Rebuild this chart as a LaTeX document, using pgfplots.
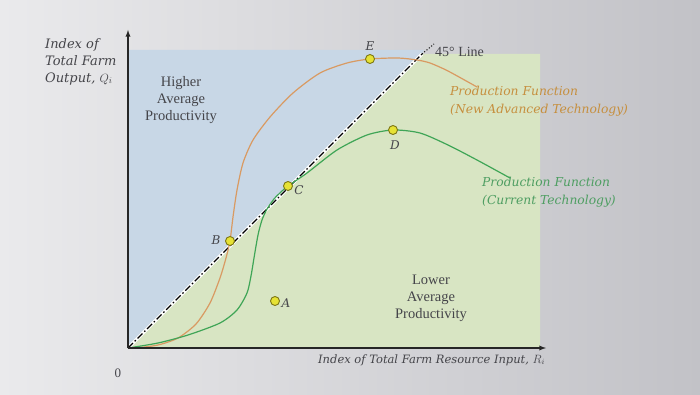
\documentclass[border=0pt]{standalone}
\usepackage{pgfplots}
\pgfplotsset{compat=1.18}
\usepackage{fontspec}
\setmainfont{Liberation Serif}
\newfontfamily\itf{DejaVu Serif}
\definecolor{bgL}{HTML}{EAEAEC}
\definecolor{bgR}{HTML}{C2C2C7}
\definecolor{blueReg}{HTML}{C8D7E6}
\definecolor{greenReg}{HTML}{D8E5C3}
\definecolor{orangeC}{HTML}{D99A62}
\definecolor{greenC}{HTML}{3FA556}
\definecolor{orangeT}{HTML}{C68F3E}
\definecolor{greenT}{HTML}{4E9E62}
\definecolor{mkF}{HTML}{E6E235}
\definecolor{mkD}{HTML}{7D7715}
\definecolor{txt}{HTML}{45454A}
\begin{document}
\begin{tikzpicture}[x=1pt,y=1pt]
\begin{axis}[
  scale only axis, width=420pt, height=300pt,
  xmin=0, xmax=420, ymin=0, ymax=300,
  hide axis, clip=false,
]
\shade[left color=bgL, right color=bgR] (axis cs:-128,-46) rectangle (axis cs:572,348);
\fill[greenReg] (axis cs:0,0) -- (axis cs:294,294) -- (axis cs:412,294) -- (axis cs:412,0) -- cycle;
\fill[blueReg] (axis cs:0,0) -- (axis cs:0,298) -- (axis cs:296,298) -- (axis cs:294,294) -- cycle;
% 45 degree line
\addplot[white, line width=3.5pt, forget plot] coordinates {(0,0) (294,294)};
\addplot[black, line width=1.4pt, dash pattern=on 7pt off 2.5pt on 1.5pt off 2.5pt, forget plot] coordinates {(0,0) (294,294)};
\addplot[black, line width=1pt, dotted, forget plot] coordinates {(294,294) (306,304)};
% new technology
\addplot[orangeC, line width=1.2pt, smooth, tension=0.45] coordinates {
(8,0) (30,3) (50,10) (68,24) (82,45) (92,70) (98,90) (102,107) (105,131) (109,158) (115,185) (125,208) (142,231) (165,255) (192,275) (219,285) (242,289) (270,290) (289,288) (302,285) (320,277) (349,261)};
% current technology
\addplot[greenC, line width=1.2pt, smooth, tension=0.45] coordinates {
(0,0) (30,5) (60,13) (92,25) (109,38) (119,55) (123,72) (126,90) (130,113) (134,128) (139,139) (146,149) (153,156) (160,162) (179,175) (209,198) (239,213) (265,218) (292,215) (320,203) (349,188) (382,170)};
% points
\addplot[only marks, mark=*, mark size=4.5pt, mark options={fill=mkF, draw=mkD, line width=0.9pt}] coordinates {
(147,47) (102,107) (160,162) (265,218) (242,289)};
% axes
\draw[-latex, line width=1.3pt, black!85] (axis cs:0,0) -- (axis cs:0,318);
\draw[-latex, line width=1.3pt, black!85] (axis cs:0,0) -- (axis cs:418,0);
% labels
\node[anchor=north west, align=left, font=\itf\itshape\fontsize{13}{17}\selectfont, text=txt, inner sep=0pt] at (axis cs:-83,310) {Index of\\Total Farm\\Output, $Q_i$};
\node[align=center, font=\fontsize{14.5}{17}\selectfont, text=txt] at (axis cs:53,248) {Higher\\Average\\Productivity};
\node[align=center, font=\fontsize{14.5}{17}\selectfont, text=txt] at (axis cs:303,50) {Lower\\Average\\Productivity};
\node[font=\fontsize{13}{14}\selectfont, text=txt] at (axis cs:-10,-25) {0};
\node[anchor=west, font=\itf\itshape\fontsize{11.5}{14}\selectfont, text=txt, inner sep=0pt] at (axis cs:190,-12) {Index of Total Farm Resource Input, $R_i$};
\node[anchor=west, font=\fontsize{14}{15}\selectfont, text=txt, inner sep=0pt] at (axis cs:307,296) {45\textdegree\ Line};
\node[anchor=north west, align=left, font=\itf\itshape\fontsize{12.3}{18}\selectfont, text=orangeT, inner sep=0pt] at (axis cs:322,262) {Production Function\\(New Advanced Technology)};
\node[anchor=north west, align=left, font=\itf\itshape\fontsize{12.3}{18}\selectfont, text=greenT, inner sep=0pt] at (axis cs:354,171) {Production Function\\(Current Technology)};
\node[font=\itf\itshape\fontsize{12}{13}\selectfont, text=txt] at (axis cs:242,302) {E};
\node[font=\itf\itshape\fontsize{12}{13}\selectfont, text=txt] at (axis cs:267,203) {D};
\node[font=\itf\itshape\fontsize{12}{13}\selectfont, text=txt] at (axis cs:171,158) {C};
\node[font=\itf\itshape\fontsize{12}{13}\selectfont, text=txt] at (axis cs:88,108) {B};
\node[font=\itf\itshape\fontsize{12}{13}\selectfont, text=txt] at (axis cs:158,45) {A};
\end{axis}
\end{tikzpicture}
\end{document}
